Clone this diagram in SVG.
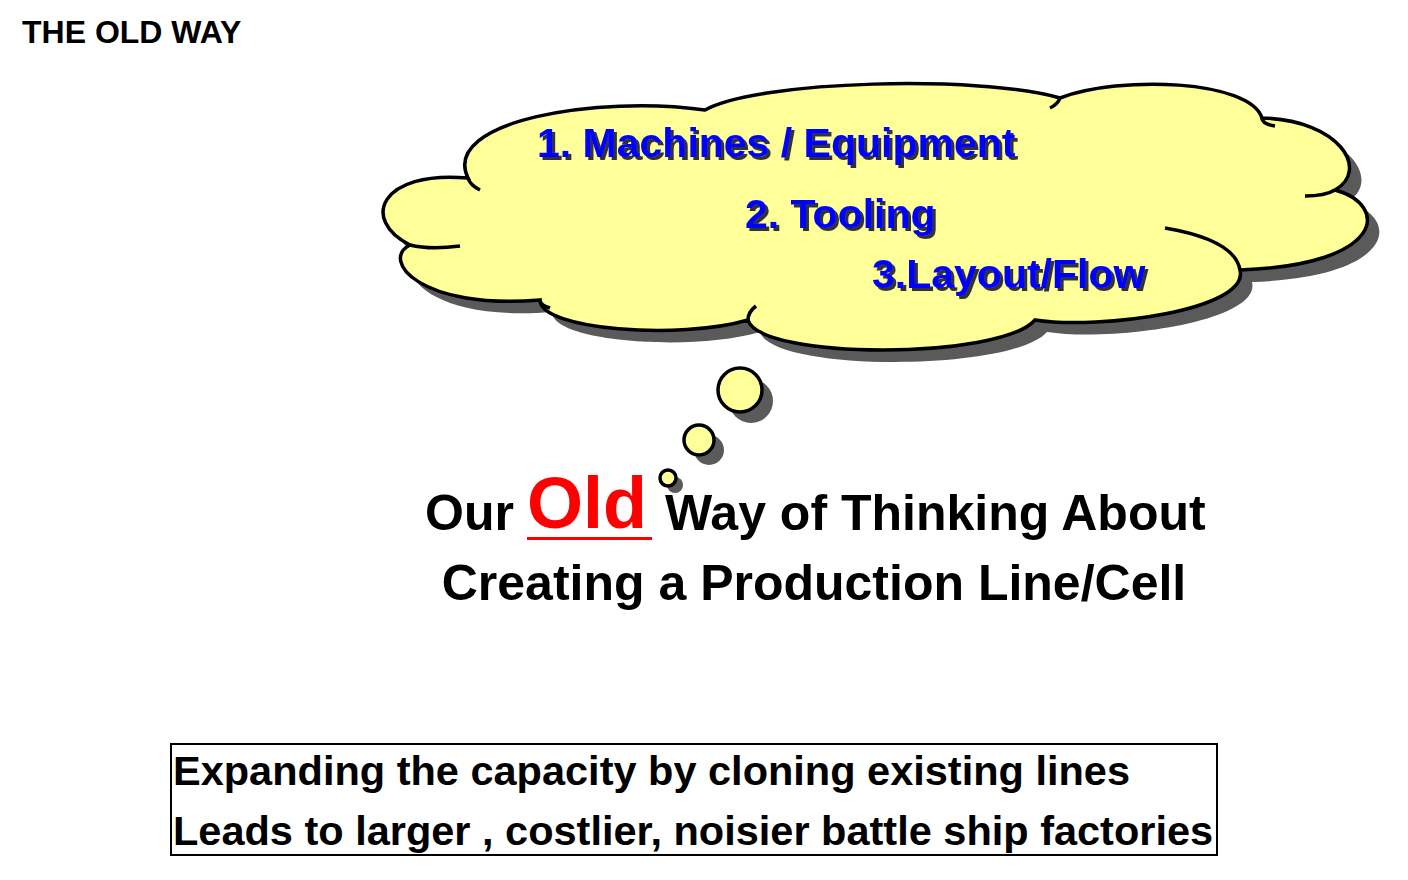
<svg xmlns="http://www.w3.org/2000/svg" width="1408" height="880" viewBox="0 0 1408 880">
<defs>
<style>
text{font-family:"Liberation Sans",Arial,sans-serif;font-weight:bold}
.cl{fill:#FFFF99;stroke:#000;stroke-width:3.5}
.sh{fill:#5a5a5a}
.ct{fill:#0000FF;font-size:41px;filter:url(#ts)}
.m{font-size:50px;fill:#000}
.b{font-size:41.5px;fill:#000}
</style>
<filter id="ts" x="-5%" y="-20%" width="110%" height="150%">
<feDropShadow dx="3" dy="3" stdDeviation="0" flood-color="#333" flood-opacity="1"/>
</filter>
<path id="cloud" d="M468,178 C440,120 600,95 705,110 C760,80 980,75 1060,98 C1120,75 1250,80 1262,118 C1340,120 1370,170 1335,190 C1390,205 1385,265 1240,270 C1250,310 1100,330 1035,320 C1000,360 760,360 748,320 C680,340 540,330 540,300 C420,310 380,260 410,245 C360,220 380,170 468,178 Z"/>
</defs>
<rect width="1408" height="880" fill="#fff"/>
<text x="22" y="43" font-size="32">THE OLD WAY</text>
<g id="thought-cloud">
<use href="#cloud" class="sh" transform="translate(12,12)"/>
<use href="#cloud" class="cl"/>
<path d="M468,178 Q470,185 480,190 M1060,98 Q1058,104 1050,108 M1262,118 Q1262,124 1275,126 M1335,190 Q1325,196 1305,196 M1240,270 Q1235,240 1165,228 M410,245 Q430,250 460,246 M540,300 Q540,305 550,308 M748,320 Q748,312 756,306" fill="none" stroke="#000" stroke-width="3.5"/>
<text class="ct" x="537" y="157">1. Machines / Equipment</text>
<text class="ct" x="745" y="228">2. Tooling</text>
<text class="ct" x="872" y="288">3.Layout/Flow</text>
</g>
<g id="bubbles">
<circle cx="751" cy="401" r="22" class="sh"/>
<circle cx="740" cy="390" r="22" class="cl"/>
<circle cx="709" cy="450" r="15" class="sh"/>
<circle cx="699" cy="440" r="15" class="cl"/>
<circle cx="675" cy="485" r="8" class="sh"/>
<circle cx="668" cy="478" r="8" class="cl"/>
</g>
<g id="heading">
<text class="m" x="425" y="530">Our</text>
<text x="527" y="528" font-size="72" fill="#FF0000">Old</text>
<rect x="527" y="537" width="125" height="3" fill="#FF0000"/>
<text class="m" x="665" y="530">Way of Thinking About</text>
<text class="m" x="814" y="600" text-anchor="middle">Creating a Production Line/Cell</text>
</g>
<g id="note">
<rect x="171" y="744" width="1046" height="111" fill="none" stroke="#000" stroke-width="2"/>
<text class="b" x="173" y="785">Expanding the capacity by cloning existing lines</text>
<text class="b" x="173" y="845">Leads to larger , costlier, noisier battle ship factories</text>
</g>
<g id="connectors"/>
</svg>
